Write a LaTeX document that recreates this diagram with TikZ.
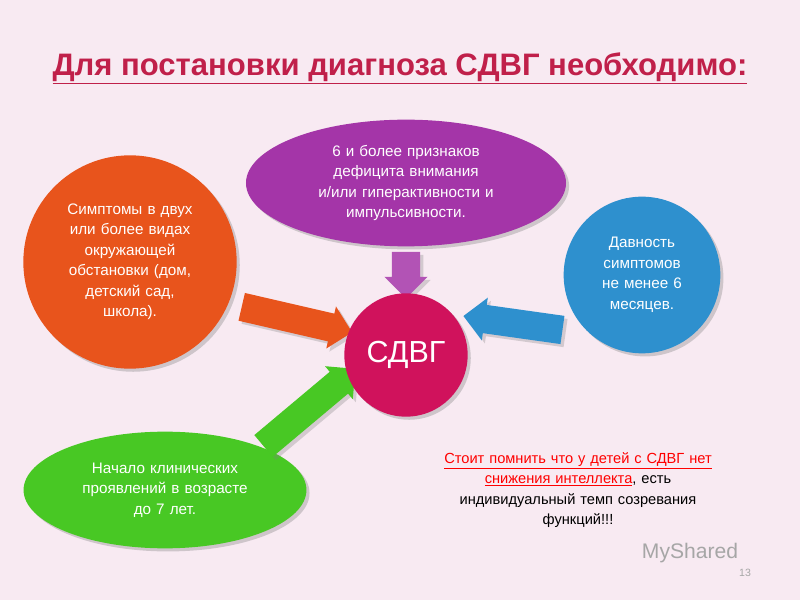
\documentclass[tikz,border=0pt]{standalone}
\usepackage{fontspec}
\setmainfont{Liberation Sans}
\usetikzlibrary{shapes.geometric,shapes.arrows,shadows}
\definecolor{bgpink}{HTML}{F8EAF2}
\definecolor{orng}{HTML}{E8541C}
\definecolor{purp}{HTML}{A435A8}
\definecolor{blu}{HTML}{2E90CE}
\definecolor{grn}{HTML}{48C824}
\definecolor{crim}{HTML}{D0125C}
\definecolor{ttl}{HTML}{C0204A}
\tikzstyle{blob} = [ellipse, inner sep=0pt, text centered, text=white, font=\fontsize{13}{17.5}\selectfont, drop shadow={opacity=0.35}]
\tikzstyle{barrow} = [single arrow, minimum height=3cm, single arrow head extend=0.22cm, inner sep=0.42cm, drop shadow={opacity=0.3}]

\begin{document}
\begin{tikzpicture}[x=0.03cm,y=-0.03cm]
    \fill[bgpink] (0,0) rectangle (800,600);
    \useasboundingbox (0,0) rectangle (800,600);

    \node (title) [text=ttl, font=\fontsize{26.5}{30}\selectfont\bfseries] at (400,68) {\underline{Для постановки диагноза СДВГ необходимо:}};

    % outer nodes
    \node (setting) [blob, circle, fill=orng, minimum size=6.4cm, text width=4.5cm] at (130,262) {Симптомы в двух\\ или более видах\\ окружающей\\ обстановки (дом,\\ детский сад,\\ школа).};
    \node (signs) [blob, fill=purp, minimum width=9.6cm, minimum height=3.8cm, text width=6.6cm] at (406,183) {6 и более признаков\\ дефицита внимания\\ и/или гиперактивности и\\ импульсивности.};
    \node (duration) [blob, circle, fill=blu, minimum size=4.7cm, text width=3.3cm] at (642,275) {Давность\\ симптомов\\ не менее 6\\ месяцев.};
    \node (onset) [blob, fill=grn, minimum width=8.4cm, minimum height=3.5cm, text width=6cm] at (165,490) {Начало клинических\\ проявлений в возрасте\\ до 7 лет.};

    % arrows
    \node (a1) [barrow, fill=purp!85, rotate=-90, minimum height=1.4cm] at (406,268) {};
    \node (a2) [barrow, fill=orng, rotate=-13, minimum height=3.4cm] at (290,318) {};
    \node (a3) [barrow, fill=grn, rotate=40, minimum height=3.6cm] at (304,412) {};
    \node (a4) [barrow, fill=blu, rotate=172, minimum height=3cm] at (520,324) {};

    \node (adhd) [blob, circle, fill=crim, minimum size=3.7cm, font=\fontsize{26}{30}\selectfont] at (406,355) {СДВГ};

    \node (note) [text width=10.5cm, align=center, font=\fontsize{12.5}{17.5}\selectfont] at (578,490) {\textcolor{red}{\underline{Стоит помнить что у детей с СДВГ нет}}\\ \textcolor{red}{\underline{снижения интеллекта}}, есть\\ индивидуальный темп созревания\\ функций!!!};

    \node (mark) [text=gray!70, font=\fontsize{18}{20}\selectfont] at (690,553) {MyShared};
    \node (page) [text=gray!70, font=\fontsize{9}{10}\selectfont] at (745,573) {13};
\end{tikzpicture}
\end{document}
